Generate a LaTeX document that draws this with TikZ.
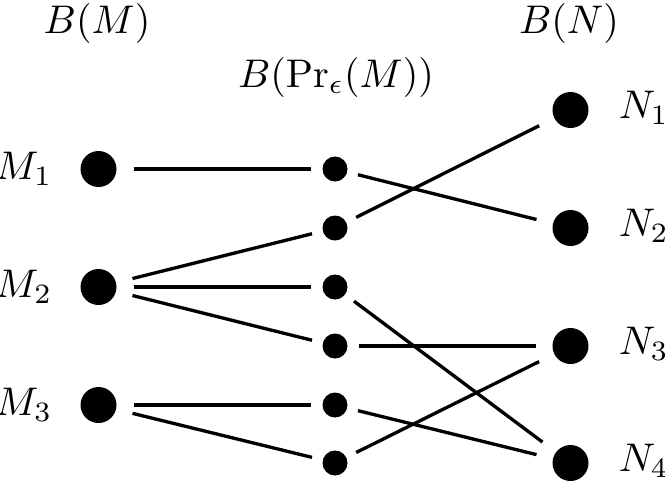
\documentclass[tikz,border=0pt]{standalone}
\begin{document}
\begin{tikzpicture}[x=0.25pt,y=-0.25pt,
  bigdot/.style={circle,fill=black,inner sep=0pt,minimum size=9pt,outer sep=4.25pt},
  smalldot/.style={circle,fill=black,inner sep=0pt,minimum size=6.25pt,outer sep=2.8pt},
  edge/.style={line width=0.83pt},
  lbl/.style={inner sep=0pt}]
\useasboundingbox (0,0) rectangle (665,483);
% left column
\node[bigdot] (M1) at (98.5,169) {};
\node[bigdot] (M2) at (98.5,287) {};
\node[bigdot] (M3) at (98.5,405) {};
% middle column
\node[smalldot] (P1) at (335,169) {};
\node[smalldot] (P2) at (335,228) {};
\node[smalldot] (P3) at (335,287) {};
\node[smalldot] (P4) at (335,346) {};
\node[smalldot] (P5) at (335,405) {};
\node[smalldot] (P6) at (335,463) {};
% right column
\node[bigdot] (N1) at (570.5,110) {};
\node[bigdot] (N2) at (570.5,228) {};
\node[bigdot] (N3) at (570.5,346) {};
\node[bigdot] (N4) at (570.5,463) {};
% labels
\node[lbl,anchor=base east] (LM1) at (53,179) {$M_1$};
\node[lbl,anchor=base east] (LM2) at (53,297) {$M_2$};
\node[lbl,anchor=base east] (LM3) at (53,415) {$M_3$};
\node[lbl,anchor=base west] (LN1) at (618,118) {$N_1$};
\node[lbl,anchor=base west] (LN2) at (618,236) {$N_2$};
\node[lbl,anchor=base west] (LN3) at (618,354) {$N_3$};
\node[lbl,anchor=base west] (LN4) at (618,471) {$N_4$};
\node[lbl,anchor=base] (TM) at (97,33) {$B(M)$};
\node[lbl,anchor=base] (TN) at (569,33) {$B(N)$};
\node[lbl,anchor=base] (TP) at (336,87) {$B(\mathrm{Pr}_\epsilon(M))$};
% edges
\draw[edge] (M1) -- (P1);
\draw[edge] (M2) -- (P2);
\draw[edge] (M2) -- (P3);
\draw[edge] (M2) -- (P4);
\draw[edge] (M3) -- (P5);
\draw[edge] (M3) -- (P6);
\draw[edge] (P1) -- (N2);
\draw[edge] (P2) -- (N1);
\draw[edge] (P3) -- (N4);
\draw[edge] (P4) -- (N3);
\draw[edge] (P5) -- (N4);
\draw[edge] (P6) -- (N3);
\end{tikzpicture}
\end{document}
